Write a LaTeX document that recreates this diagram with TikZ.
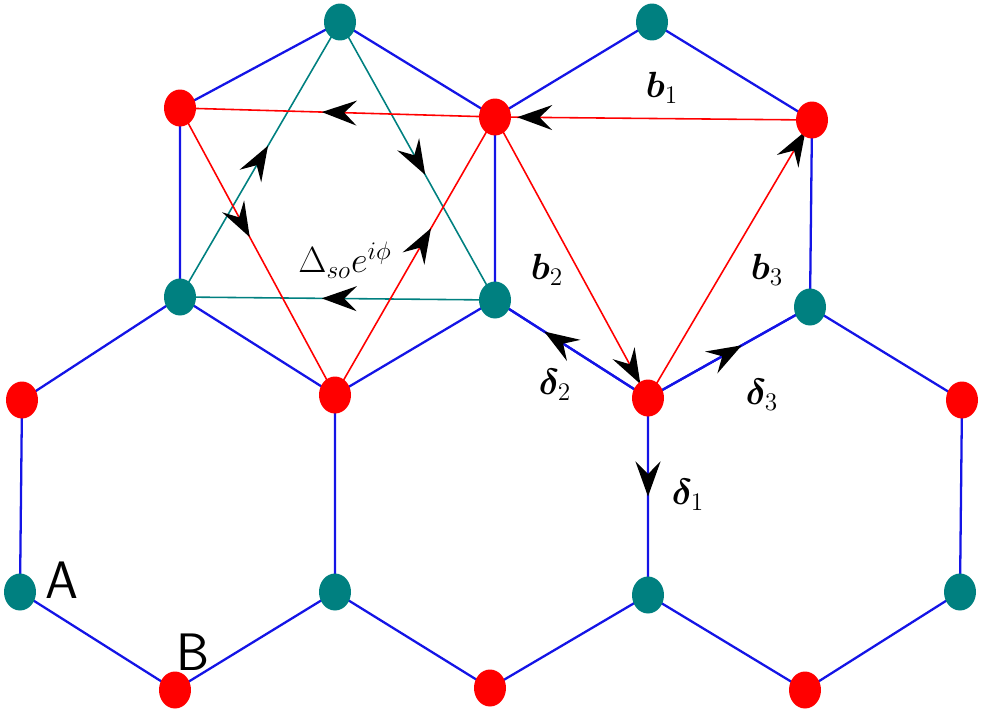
\documentclass[tikz,border=0pt]{standalone}
\usepackage{amsmath,bm}
\usetikzlibrary{arrows.meta,decorations.markings,shapes.geometric}
\definecolor{tealc}{RGB}{0,128,128}
\definecolor{hexb}{RGB}{20,20,230}
\tikzset{
  hexedge/.style={hexb,line width=1.3pt},
  redl/.style={red,line width=0.9pt},
  teall/.style={tealc,line width=0.9pt},
  marr/.style={postaction={decorate},decoration={markings,mark=at position #1 with {\arrow[black]{Stealth[length=7mm,width=5mm,inset=2.5mm]}}}},
  reddot/.style={ellipse,fill=red,minimum width=0.64cm,minimum height=0.74cm,inner sep=0},
  tealdot/.style={ellipse,fill=tealc,minimum width=0.64cm,minimum height=0.74cm,inner sep=0},
  lab/.style={font=\fontsize{20}{22}\selectfont}
}
\begin{document}
\begin{tikzpicture}[x=0.02cm,y=-0.02cm]
\useasboundingbox (0,0) rectangle (984,717);
\coordinate (t1) at (340,22);
\coordinate (t2) at (652,22);
\coordinate (r1) at (180,108);
\coordinate (r2) at (495,117);
\coordinate (r3) at (812,120);
\coordinate (t3) at (180,297);
\coordinate (t4) at (495,300);
\coordinate (t5) at (810,307);
\coordinate (r4) at (22,400);
\coordinate (r5) at (335,395);
\coordinate (r6) at (648,398);
\coordinate (r7) at (962,400);
\coordinate (t6) at (20,592);
\coordinate (t7) at (335,592);
\coordinate (t8) at (648,595);
\coordinate (t9) at (960,592);
\coordinate (r8) at (175,690);
\coordinate (r9) at (490,688);
\coordinate (r10) at (805,690);
% hexagons
\draw[hexedge] (t1)--(r1) (t1)--(r2) (r1)--(t3) (r2)--(t4) (t3)--(r5) (t4)--(r5)
 (t2)--(r2) (t2)--(r3) (r3)--(t5) (t4)--(r6) (t5)--(r6)
 (t3)--(r4) (r4)--(t6) (t6)--(r8) (r8)--(t7) (t7)--(r5) (t7)--(r9) (r9)--(t8)
 (t8)--(r6) (t8)--(r10) (r10)--(t9) (t9)--(r7) (r7)--(t5);
% delta arrows
\draw[hexedge,marr=0.68] (r6)--(t4);
\draw[hexedge,marr=0.58] (r6)--(t5);
\draw[hexedge,marr=0.5] (r6)--(t8);
% teal triangle
\draw[teall,marr=0.55] (t3)--(t1);
\draw[teall,marr=0.55] (t1)--(t4);
\draw[teall,marr=0.55] (t4)--(t3);
% red triangle left
\draw[redl,marr=0.55] (r2)--(r1);
\draw[redl,marr=0.45] (r1)--(r5);
\draw[redl,marr=0.6] (r5)--(r2);
% red triangle right
\draw[redl,marr=0.93] (r3)--(r2);
\draw[redl,marr=0.95] (r2)--(r6);
\draw[redl,marr=0.96] (r6)--(r3);
% dots
\foreach \n in {t1,t2,t3,t4,t5,t6,t7,t8,t9} \node[tealdot] at (\n) {};
\foreach \n in {r1,r2,r3,r4,r5,r6,r7,r8,r9,r10} \node[reddot] at (\n) {};
% labels
\node[lab] (lb1) at (662,88) {$\bm{b}_1$};
\node[lab] (lb2) at (547,270) {$\bm{b}_2$};
\node[lab] (lb3) at (767,270) {$\bm{b}_3$};
\node[lab] (ld2) at (555,385) {$\bm{\delta}_2$};
\node[lab] (ld3) at (762,395) {$\bm{\delta}_3$};
\node[lab] (ld1) at (688,495) {$\bm{\delta}_1$};
\node[lab] (lso) at (345,260) {$\Delta_{so}e^{i\phi}$};
\node[font=\sffamily\fontsize{30}{32}\selectfont] (la) at (62,580) {A};
\node[font=\sffamily\fontsize{30}{32}\selectfont] (lbb) at (193,652) {B};
\end{tikzpicture}
\end{document}
